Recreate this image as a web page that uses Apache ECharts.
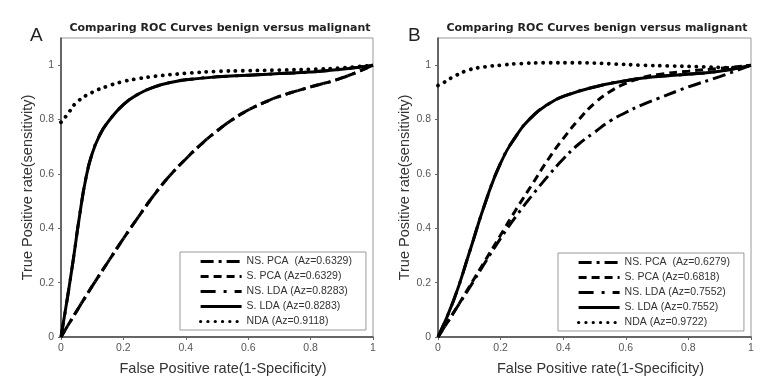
<!DOCTYPE html>
<html>
<head>
<meta charset="utf-8">
<script src="https://cdn.jsdelivr.net/npm/echarts@6/dist/echarts.min.js"></script>
<style>html,body{margin:0;padding:0;background:#fff}#c{width:768px;height:388px}</style>
</head>
<body>
<div id="c"></div>
<script>
// ---- Data ----
const chartTitle = 'Comparing ROC Curves benign versus malignant';
const panelLetters = ['A', 'B'];
const xAxisName = 'False Positive rate(1-Specificity)';
const yAxisName = 'True Positive rate(sensitivity)';
const tickValues = [0, 0.2, 0.4, 0.6, 0.8, 1];

const namesA = ['NS. PCA  (Az=0.6329)', 'S. PCA (Az=0.6329)', 'NS. LDA (Az=0.8283)', 'S. LDA (Az=0.8283)', 'NDA (Az=0.9118)'];
const namesB = ['NS. PCA  (Az=0.6279)', 'S. PCA (Az=0.6818)', 'NS. LDA (Az=0.7552)', 'S. LDA (Az=0.7552)', 'NDA (Az=0.9722)'];

// Panel A
const pcaA = [[0,0],[0.05,0.095],[0.1,0.187],[0.15,0.275],[0.2,0.362],[0.25,0.445],[0.3,0.525],[0.35,0.595],[0.4,0.655],[0.45,0.71],[0.5,0.758],[0.55,0.8],[0.6,0.835],[0.65,0.862],[0.7,0.885],[0.8,0.92],[0.9,0.953],[1,1]];
const ldaA = [[0,0],[0.02,0.14],[0.04,0.29],[0.06,0.45],[0.08,0.585],[0.1,0.675],[0.125,0.745],[0.15,0.79],[0.2,0.855],[0.25,0.895],[0.3,0.92],[0.35,0.936],[0.4,0.946],[0.5,0.957],[0.6,0.963],[0.7,0.969],[0.8,0.975],[0.9,0.985],[1,1]];
const ndaA = [[0,0.79],[0.02,0.818],[0.05,0.863],[0.1,0.9],[0.15,0.923],[0.2,0.94],[0.25,0.951],[0.3,0.959],[0.4,0.97],[0.5,0.977],[0.6,0.98],[0.7,0.982],[0.8,0.985],[0.9,0.99],[1,1]];

// Panel B
const nsPcaB = [[0,0],[0.05,0.09],[0.1,0.18],[0.15,0.273],[0.2,0.363],[0.25,0.445],[0.3,0.52],[0.35,0.59],[0.4,0.655],[0.45,0.71],[0.5,0.753],[0.55,0.795],[0.6,0.826],[0.65,0.853],[0.7,0.876],[0.8,0.92],[0.9,0.958],[1,1]];
const sPcaB = [[0,0],[0.05,0.09],[0.1,0.185],[0.15,0.28],[0.2,0.375],[0.25,0.47],[0.3,0.56],[0.35,0.65],[0.4,0.73],[0.45,0.8],[0.5,0.86],[0.55,0.903],[0.6,0.933],[0.65,0.953],[0.7,0.965],[0.8,0.978],[0.9,0.988],[1,1]];
const ldaB = [[0,0],[0.05,0.135],[0.1,0.31],[0.15,0.49],[0.2,0.64],[0.25,0.74],[0.3,0.81],[0.35,0.855],[0.4,0.885],[0.5,0.92],[0.6,0.943],[0.7,0.958],[0.8,0.967],[0.9,0.978],[1,1]];
const ndaB = [[0,0.925],[0.02,0.937],[0.05,0.958],[0.1,0.983],[0.15,0.994],[0.2,1.0],[0.25,1.005],[0.35,1.009],[0.45,1.009],[0.55,1.005],[0.65,1.0],[0.75,0.997],[0.85,0.994],[0.93,0.991],[1,1]];

const dataA = [pcaA, pcaA, ldaA, ldaA, ndaA];
const dataB = [nsPcaB, sPcaB, ldaB, ldaB, ndaB];

// ---- Styles ----
const styles = [
  {type: [13, 5, 3, 5], width: 3, cap: 'butt'},
  {type: [8, 5], width: 3, cap: 'butt'},
  {type: [15, 8, 3, 8], width: 3, cap: 'butt'},
  {type: 'solid', width: 3, cap: 'butt'},
  {type: [0.1, 7.2], width: 3.8, cap: 'round'}
];

const grids = [
  {left: 61, top: 38, width: 312, height: 299},
  {left: 438, top: 38, width: 313, height: 299}
];

function xAx(i) {
  return {
    gridIndex: i, type: 'value', min: 0, max: 1, interval: 0.2,
    name: xAxisName, nameLocation: 'middle', nameGap: 24,
    nameTextStyle: {fontFamily: 'Liberation Sans', fontSize: 14.5, color: '#333', padding: [0, 0, 0, 12]},
    axisLine: {show: true, lineStyle: {color: '#444', width: 1.5}},
    axisTick: {show: true, length: 3, lineStyle: {color: '#666'}},
    axisLabel: {fontFamily: 'Liberation Sans', fontSize: 10.5, color: '#555', margin: 6,
      formatter: v => tickValues.indexOf(Math.round(v*10)/10) >= 0 ? String(Math.round(v*10)/10) : ''},
    splitLine: {show: false}
  };
}
function yAx(i) {
  return {
    gridIndex: i, type: 'value', min: 0, max: 1.1, interval: 0.2,
    name: yAxisName, nameLocation: 'middle', nameGap: 26,
    nameTextStyle: {fontFamily: 'Liberation Sans', fontSize: 14.5, color: '#333'},
    axisLine: {show: true, lineStyle: {color: '#444', width: 1.5}},
    axisTick: {show: true, length: 3, lineStyle: {color: '#666'}},
    axisLabel: {fontFamily: 'Liberation Sans', fontSize: 10.5, color: '#555', margin: 7, showMaxLabel: false,
      formatter: v => v > 1.001 ? '' : String(Math.round(v*10)/10)},
    splitLine: {show: false}
  };
}

const series = [];
[namesA, namesB].forEach((names, p) => {
  const dat = p === 0 ? dataA : dataB;
  names.forEach((n, k) => {
    series.push({
      name: n, type: 'line', xAxisIndex: p, yAxisIndex: p,
      data: dat[k], symbol: 'none', smooth: 0.5,
      lineStyle: Object.assign({color: '#000'}, styles[k]),
      itemStyle: {color: '#000'},
      silent: true, animation: false, z: 3 + k
    });
  });
});

function legend(names, left, top) {
  return {
    data: names, orient: 'vertical', left: left, top: top,
    itemWidth: 41, itemHeight: 10, itemGap: 4,
    padding: [4, 14, 3, 19],
    borderColor: '#999', borderWidth: 1, backgroundColor: '#fff',
    itemStyle: {opacity: 0, color: 'transparent', borderWidth: 0},
    lineStyle: {width: 3.2},
    textStyle: {fontFamily: 'Liberation Sans', fontSize: 10.5, color: '#333'},
    selectedMode: false
  };
}

const option = {
  animation: false,
  backgroundColor: '#fff',
  title: [
    {text: panelLetters[0], left: 25, top: 21, textStyle: {fontFamily: 'Liberation Sans', fontSize: 19, fontWeight: 'normal', color: '#222'}},
    {text: panelLetters[1], left: 403, top: 21, textStyle: {fontFamily: 'Liberation Sans', fontSize: 19, fontWeight: 'normal', color: '#222'}},
    {text: chartTitle, left: 215, top: 18, textAlign: 'center', textStyle: {fontFamily: 'DejaVu Sans', fontSize: 11, fontWeight: 'bold', color: '#222'}},
    {text: chartTitle, left: 592, top: 18, textAlign: 'center', textStyle: {fontFamily: 'DejaVu Sans', fontSize: 11, fontWeight: 'bold', color: '#222'}}
  ],
  grid: grids.map(g => Object.assign({show: true, borderColor: '#999', borderWidth: 1, backgroundColor: '#fff'}, g)),
  xAxis: [xAx(0), xAx(1)],
  yAxis: [yAx(0), yAx(1)],
  legend: [legend(namesA, 180, 252), legend(namesB, 558, 253)],
  series: series
};

const chart = echarts.init(document.getElementById('c'), null, {renderer: 'canvas'});
chart.setOption(option);
</script>
</body>
</html>
